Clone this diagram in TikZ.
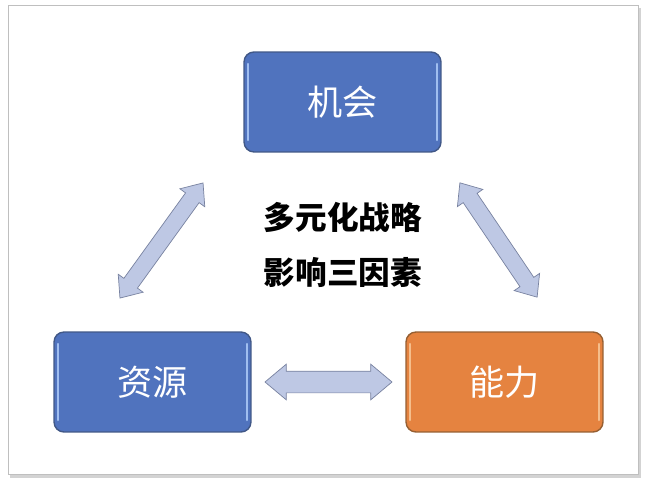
\documentclass[tikz,border=0pt]{standalone}
\usepackage{fontspec}
\newfontfamily\cjk{Noto Sans CJK SC}
\usetikzlibrary{shapes.arrows,shadows}
\definecolor{boxblue}{RGB}{80,115,190}
\definecolor{boxblueline}{RGB}{65,88,135}
\definecolor{boxbluelight}{RGB}{160,190,240}
\definecolor{boxorange}{RGB}{229,131,64}
\definecolor{boxorangeline}{RGB}{150,95,50}
\definecolor{boxorangelight}{RGB}{245,190,140}
\definecolor{arrowfill}{RGB}{190,200,228}
\definecolor{arrowline}{RGB}{120,130,160}

\begin{document}
\begin{tikzpicture}[x=0.02cm, y=-0.02cm,
    factor/.style ={rounded corners=0.2cm, draw=boxblueline, fill=boxblue, thick,
      minimum width=3.94cm, minimum height=2cm, text=white, font=\cjk\fontsize{20}{24}\selectfont},
    link/.style ={double arrow, draw=arrowline, fill=arrowfill, inner xsep=0pt, inner ysep=0.21cm,
      double arrow head extend=0.14cm, double arrow tip angle=80},
    shine/.style ={line width=1.2pt, line cap=round}]
   \useasboundingbox (0,0) rectangle (648,489);
   \draw[draw=black!25, fill=white, drop shadow={shadow xshift=0.05cm, shadow yshift=-0.07cm, opacity=0.35}]
     (8,5) rectangle (638,474);
   \node[factor] (jihui)  at (342.5,102)  {机会};
   \node[factor] (ziyuan) at (152.5,382)  {资源};
   \node[factor, draw=boxorangeline, fill=boxorange] (nengli) at (504.5,382)  {能力};
   \foreach \n/\c in {jihui/boxbluelight, ziyuan/boxbluelight, nengli/boxorangelight} {
     \draw[shine, \c] ([xshift=0.1cm, yshift=-0.25cm]\n.north west) -- ([xshift=0.1cm, yshift=0.25cm]\n.south west);
     \draw[shine, \c] ([xshift=-0.1cm, yshift=-0.25cm]\n.north east) -- ([xshift=-0.1cm, yshift=0.25cm]\n.south east);
   }
   \node[font=\cjk\bfseries\fontsize{18}{31}\selectfont, align=center] (title) at (343,245)
     {多元化战略\\影响三因素};
   \coordinate (zj) at (120,298);
   \coordinate (jz) at (203,183);
   \coordinate (jn) at (460,183);
   \coordinate (nj) at (537,297);
   \path (ziyuan.east) -- (nengli.west) node[link, midway, sloped, minimum height=2.54cm] {};
   \path (zj) -- (jz) node[link, midway, sloped, minimum height=2.84cm, inner ysep=0.16cm] {};
   \path (jn) -- (nj) node[link, midway, sloped, minimum height=2.76cm, inner ysep=0.16cm] {};
\end{tikzpicture}
\end{document}
